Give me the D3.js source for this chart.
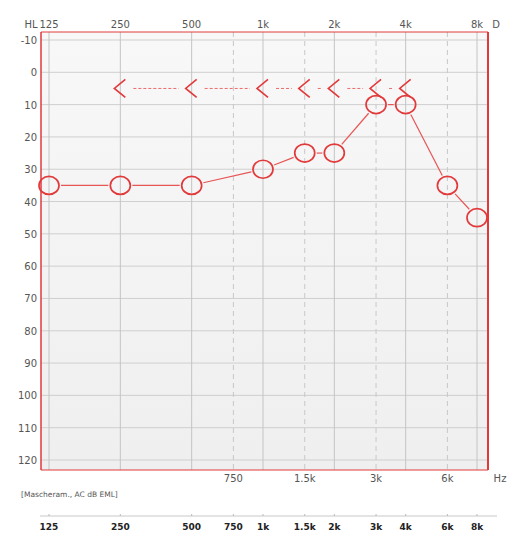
<!DOCTYPE html>
<html><head><meta charset="utf-8">
<script src="https://cdn.jsdelivr.net/npm/d3@7"></script>
<style>body{margin:0;background:#fff}</style>
</head><body>
<svg id="c" width="520" height="550"></svg>
<script>
// ---- data ----
const octaveFreqs = [125, 250, 500, 1000, 2000, 4000, 8000];
const octaveLabels = ["125", "250", "500", "1k", "2k", "4k", "8k"];
const halfFreqs = [750, 1500, 3000, 6000];
const halfLabels = ["750", "1.5k", "3k", "6k"];
const bottomFreqs = [125, 250, 500, 750, 1000, 1500, 2000, 3000, 4000, 6000, 8000];
const bottomLabels = ["125", "250", "500", "750", "1k", "1.5k", "2k", "3k", "4k", "6k", "8k"];
const dbTicks = [-10, 0, 10, 20, 30, 40, 50, 60, 70, 80, 90, 100, 110, 120];
const acFreqs = [125, 250, 500, 1000, 1500, 2000, 3000, 4000, 6000, 8000];
const acValues = [35, 35, 35, 30, 25, 25, 10, 10, 35, 45];
const maskFreqs = [250, 500, 1000, 1500, 2000, 3000, 4000];
const maskValues = [5, 5, 5, 5, 5, 5, 5];

const svg = d3.select("#c");
const x = d3.scaleLog().base(2).domain([125, 8000]).range([49, 477]);
const y = d3.scaleLinear().domain([-10, 120]).range([40, 460]);
const frame = {l: 41, t: 32, r: 488, b: 470};
const red = "#e2393b";
const font = "'DejaVu Sans', Verdana, sans-serif";

// background gradient
const defs = svg.append("defs");
const g1 = defs.append("linearGradient").attr("id", "bg").attr("x1", 0).attr("y1", 0).attr("x2", 0).attr("y2", 1);
g1.append("stop").attr("offset", "0").attr("stop-color", "#f8f8f8");
g1.append("stop").attr("offset", "1").attr("stop-color", "#efefef");
svg.append("rect").attr("x", frame.l).attr("y", frame.t).attr("width", frame.r - frame.l).attr("height", frame.b - frame.t).attr("fill", "url(#bg)");

// grid
const grid = svg.append("g");
grid.selectAll(".h").data(dbTicks).join("line")
  .attr("x1", frame.l).attr("x2", frame.r).attr("y1", d => y(d)).attr("y2", d => y(d))
  .attr("stroke", "#cfcfcf").attr("stroke-width", 1);
grid.selectAll(".vo").data(octaveFreqs).join("line")
  .attr("x1", d => x(d)).attr("x2", d => x(d)).attr("y1", frame.t).attr("y2", frame.b)
  .attr("stroke", "#c4c4c4").attr("stroke-width", 1);
grid.selectAll(".vh").data(halfFreqs).join("line")
  .attr("x1", d => x(d)).attr("x2", d => x(d)).attr("y1", frame.t).attr("y2", frame.b)
  .attr("stroke", "#c8c8c8").attr("stroke-width", 1).attr("stroke-dasharray", "5,4");

// frame
svg.append("line").attr("x1", frame.l).attr("x2", frame.r).attr("y1", frame.t).attr("y2", frame.t).attr("stroke", red).attr("stroke-width", 1);
svg.append("line").attr("x1", frame.l).attr("x2", frame.r).attr("y1", frame.b).attr("y2", frame.b).attr("stroke", red).attr("stroke-width", 1);
svg.append("line").attr("x1", frame.l).attr("x2", frame.l).attr("y1", frame.t).attr("y2", frame.b).attr("stroke", red).attr("stroke-width", 1.5);
svg.append("line").attr("x1", frame.r).attr("x2", frame.r).attr("y1", frame.t).attr("y2", frame.b).attr("stroke", red).attr("stroke-width", 2);

// labels top
const lab = svg.append("g").attr("font-family", font).attr("font-size", 10).attr("fill", "#555");
lab.selectAll(".tt").data(octaveFreqs).join("text")
  .attr("x", d => x(d)).attr("y", 28).attr("text-anchor", "middle").text((d, i) => octaveLabels[i]);
lab.append("text").attr("x", 31).attr("y", 28).attr("text-anchor", "middle").text("HL");
lab.append("text").attr("x", 496).attr("y", 28).attr("text-anchor", "middle").text("D");
// left
lab.selectAll(".yl").data(dbTicks).join("text")
  .attr("x", 37).attr("y", d => y(d) + 4).attr("text-anchor", "end").text(d => d);
// below frame half-octave labels
lab.selectAll(".hb").data(halfFreqs).join("text")
  .attr("x", d => x(d)).attr("y", 482).attr("text-anchor", "middle").text((d, i) => halfLabels[i]);
lab.append("text").attr("x", 500).attr("y", 482).attr("text-anchor", "middle").text("Hz");

svg.append("text").attr("x", 21).attr("y", 497).attr("font-family", font).attr("font-size", 7.5).attr("fill", "#555")
  .text("[Mascheram., AC dB EML]");

// bottom axis
const axisY = 516;
svg.append("line").attr("x1", 40).attr("x2", 497).attr("y1", axisY).attr("y2", axisY).attr("stroke", "#c8c8c8");
svg.selectAll(".bt").data(bottomFreqs).join("line")
  .attr("x1", d => x(d)).attr("x2", d => x(d)).attr("y1", axisY - 2).attr("y2", axisY).attr("stroke", "#bbb");
svg.selectAll(".bl").data(bottomFreqs).join("text")
  .attr("x", d => x(d)).attr("y", 530).attr("text-anchor", "middle")
  .attr("font-family", font).attr("font-size", 9).attr("font-weight", "bold").attr("fill", "#222")
  .text((d, i) => bottomLabels[i]);

// masking dashed connectors
const mpts = maskFreqs.map((f, i) => ({x: x(f), y: y(maskValues[i])}));
const md = svg.append("g");
for (let i = 0; i < mpts.length - 1; i++) {
  const a = mpts[i], b = mpts[i + 1];
  const x1 = a.x + 13, x2 = b.x - 13;
  if (x2 > x1) md.append("line").attr("x1", x1).attr("x2", x2).attr("y1", a.y).attr("y2", b.y)
    .attr("stroke", "#ec6a6a").attr("stroke-width", 1).attr("stroke-dasharray", "3,2");
}
md.selectAll("path").data(mpts).join("path")
  .attr("d", p => `M${p.x + 5},${p.y - 9}L${p.x - 6},${p.y}L${p.x + 5},${p.y + 9}`)
  .attr("fill", "none").attr("stroke", red).attr("stroke-width", 1.6);

// AC connectors
const pts = acFreqs.map((f, i) => ({x: x(f), y: y(acValues[i])}));
const cg = svg.append("g");
const rx = 10, ry = 9;
for (let i = 0; i < pts.length - 1; i++) {
  const a = pts[i], b = pts[i + 1];
  const dx = b.x - a.x, dy = b.y - a.y, L = Math.hypot(dx, dy);
  const ux = dx / L, uy = dy / L;
  const r = 1 / Math.sqrt((ux / rx) ** 2 + (uy / ry) ** 2) + 2;
  if (L > 2 * r) cg.append("line").attr("x1", a.x + ux * r).attr("y1", a.y + uy * r)
    .attr("x2", b.x - ux * r).attr("y2", b.y - uy * r)
    .attr("stroke", "#e85555").attr("stroke-width", 1.2);
}
cg.selectAll("ellipse").data(pts).join("ellipse")
  .attr("cx", p => p.x).attr("cy", p => p.y).attr("rx", rx).attr("ry", ry)
  .attr("fill", "none").attr("stroke", red).attr("stroke-width", 1.7);
</script>
</body></html>
